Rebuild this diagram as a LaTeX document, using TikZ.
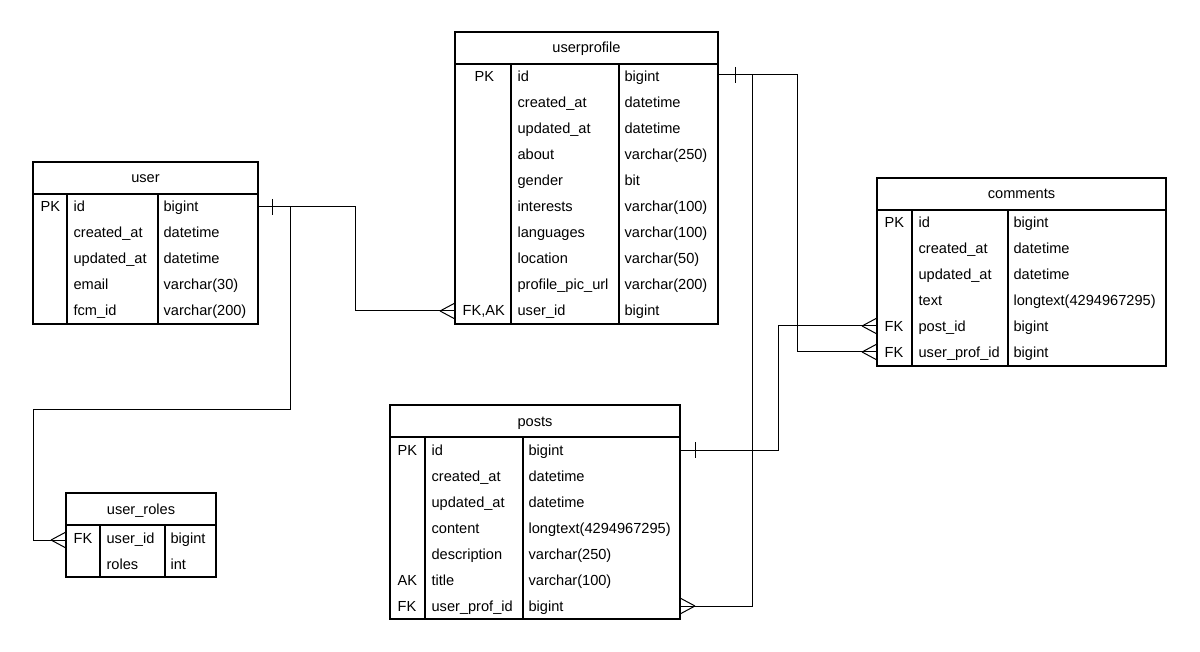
\documentclass[tikz,border=0pt]{standalone}
\usepackage{fontspec}
\setmainfont{Liberation Sans}
\usetikzlibrary{calc}
\begin{document}
\begin{tikzpicture}[x=1pt,y=-1pt,line width=1.2pt,
  txt/.style={anchor=base west,inner sep=0pt,font=\fontsize{14.6}{16}\selectfont},
  hdr/.style={anchor=base,inner sep=0pt,font=\fontsize{14.6}{16}\selectfont},
  conn/.style={line width=1pt}]
\useasboundingbox (0,0) rectangle (1200,652);
\newcommand{\erTable}[8]{%
  \node[hdr] (#1) at ({(#2+#5)/2},#6+21) {#7};
  \foreach \k/\a/\b/\c [count=\i from 0] in {#8}{%
    \node[txt] (#1-\i-k) at (#2+7,#6+50+26*\i) {\k};
    \node[txt] (#1-\i-a) at (#3+6,#6+50+26*\i) {\a};
    \node[txt] (#1-\i-b) at (#4+5,#6+50+26*\i) {\b};
    \xdef\nrows{\i}
  }
  \pgfmathsetmacro\ybot{#6+32+26*(\nrows+1)}
  \draw (#2,#6) rectangle (#5,\ybot);
  \draw (#2,#6+32) -- (#5,#6+32);
  \draw (#3,#6+32) -- (#3,\ybot);
  \draw (#4,#6+32) -- (#4,\ybot);
}
\erTable{user}{33}{67}{158}{258}{162}{user}{%
  PK/id/bigint/,{}/created\_at/datetime/,{}/updated\_at/datetime/,{}/email/varchar(30)/,{}/fcm\_id/varchar(200)/}
\erTable{up}{455}{511}{619}{718}{32}{userprofile}{%
  \hspace{12pt}PK/id/bigint/,{}/created\_at/datetime/,{}/updated\_at/datetime/,{}/about/varchar(250)/,{}/gender/bit/,{}/interests/varchar(100)/,{}/languages/varchar(100)/,{}/location/varchar(50)/,{}/profile\_pic\_url/varchar(200)/,FK{,}AK/user\_id/bigint/}
\erTable{com}{877}{912}{1008}{1166}{178}{comments}{%
  PK/id/bigint/,{}/created\_at/datetime/,{}/updated\_at/datetime/,{}/text/longtext(4294967295)/,FK/post\_id/bigint/,FK/user\_prof\_id/bigint/}
\erTable{posts}{390}{425}{523}{680}{405}{posts}{%
  PK/id/bigint/,{}/created\_at/datetime/,{}/updated\_at/datetime/,{}/content/longtext(4294967295)/,{}/description/varchar(250)/,AK/title/varchar(100)/,FK/user\_prof\_id/bigint/}
\erTable{ur}{66}{100}{165}{216}{493}{user\_roles}{%
  FK/user\_id/bigint/,{}/roles/int/}
\coordinate (uid) at (258,207);
\coordinate (upuid) at (455,311);
\coordinate (urid) at (66,540);
\coordinate (upid) at (718,75);
\coordinate (cupid) at (877,352);
\coordinate (cpid) at (877,326);
\coordinate (pid) at (680,450);
\coordinate (pupid) at (680,606);
\newcommand{\crowL}[1]{\draw[conn] ($(#1)+(-15,0)$) -- ($(#1)+(0,-8)$) ($(#1)+(-15,0)$) -- ($(#1)+(0,8)$);}
\newcommand{\crowR}[1]{\draw[conn] ($(#1)+(15,0)$) -- ($(#1)+(0,-8)$) ($(#1)+(15,0)$) -- ($(#1)+(0,8)$);}
\draw[conn] (uid) -- (355,207) -- (355,311) -- (upuid);
\draw[conn] (272,199) -- (272,215);
\crowL{upuid}
\draw[conn] (290,207) -- (290,409) -- (33,409) -- (33,540) -- (urid);
\crowL{urid}
\draw[conn] (upid) -- (797,75) -- (797,352) -- (cupid);
\crowL{cupid}
\draw[conn] (752,75) -- (752,606) -- (pupid);
\crowR{pupid}
\draw[conn] (735,67) -- (735,83);
\draw[conn] (pid) -- (778,450) -- (778,326) -- (cpid);
\crowL{cpid}
\draw[conn] (695,442) -- (695,458);
\end{tikzpicture}
\end{document}
